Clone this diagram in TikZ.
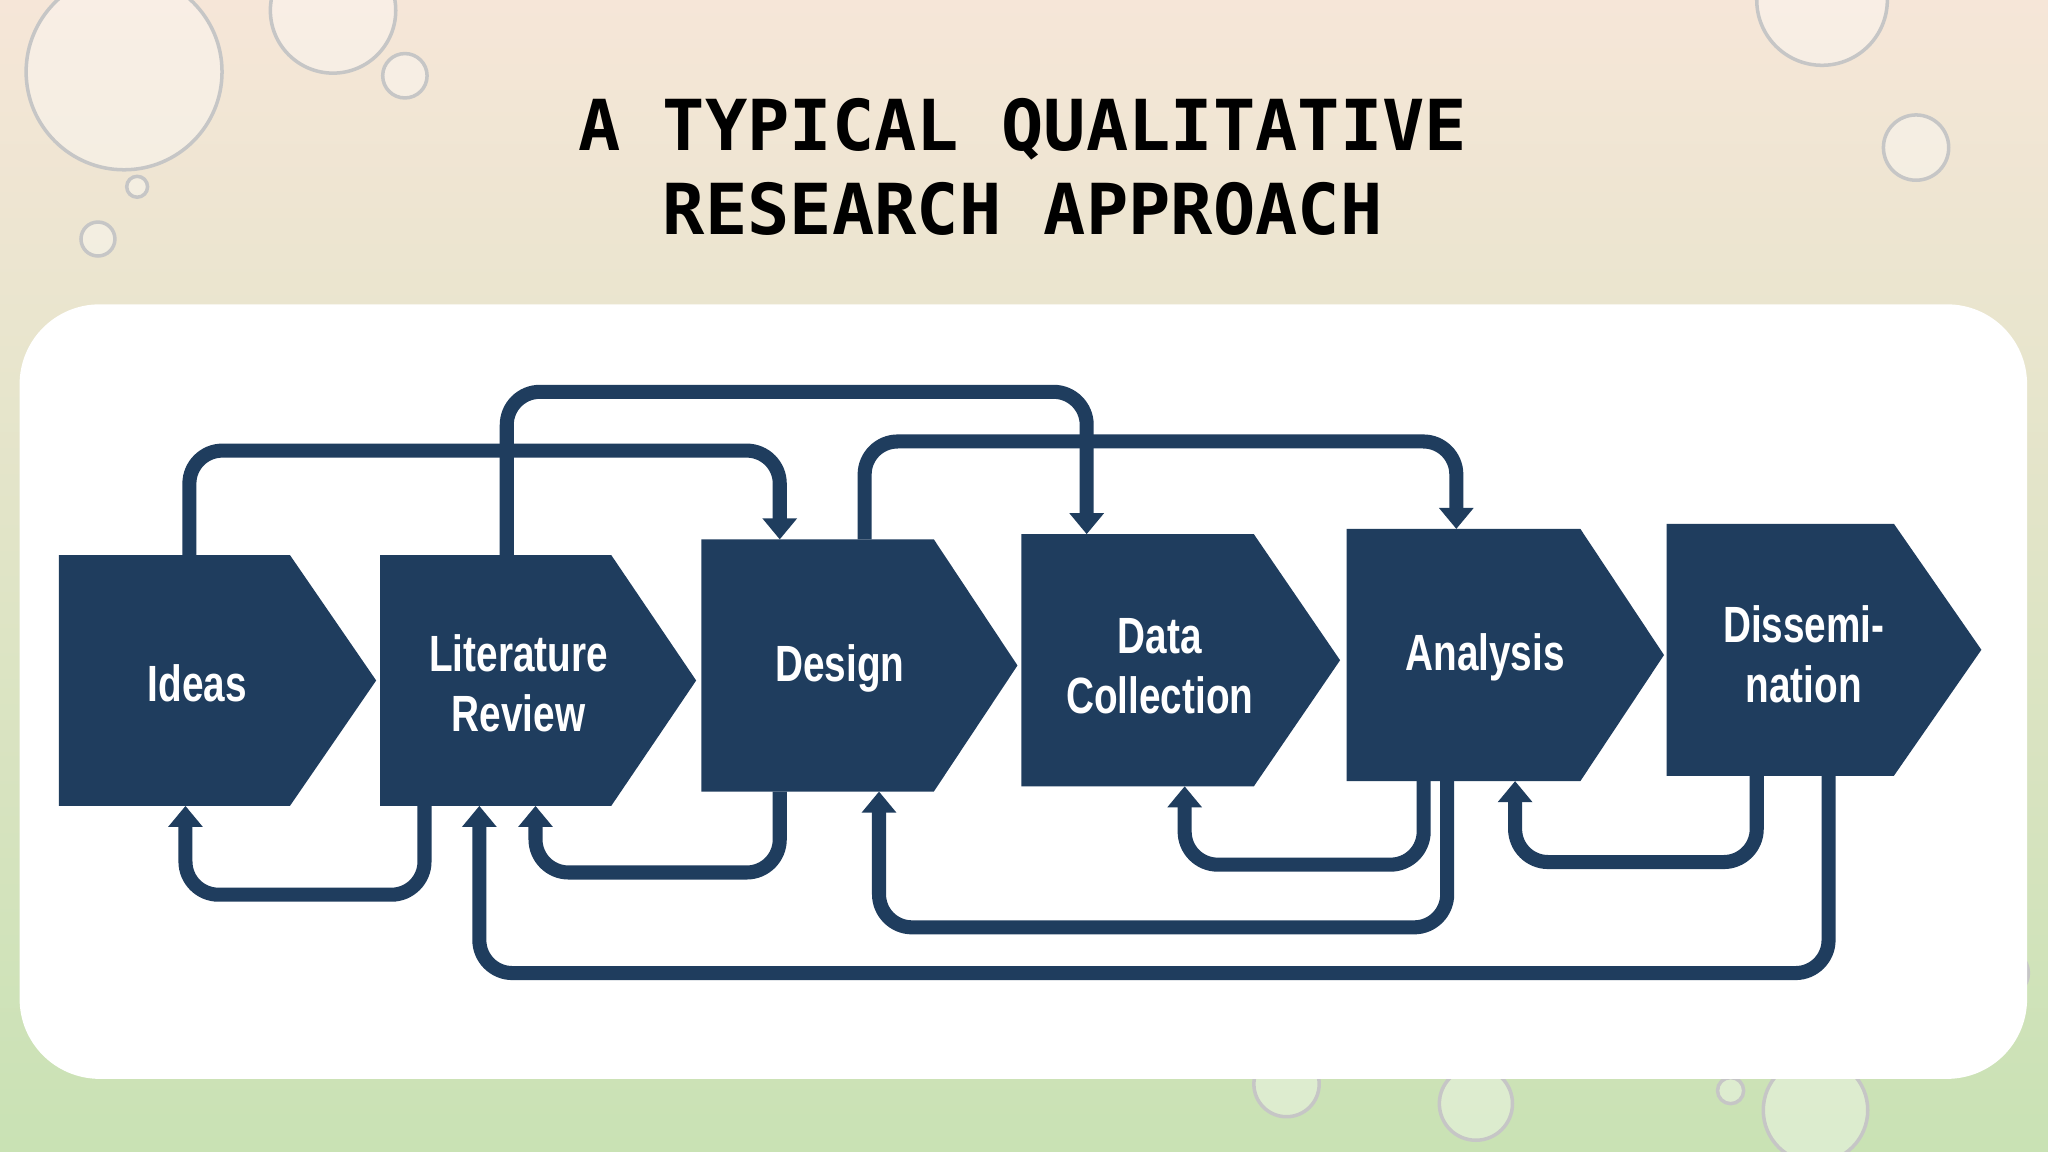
\documentclass[tikz,border=0pt]{standalone}
\usepackage{fontspec}
\setmainfont{Liberation Sans}
\newfontfamily\titlefont{DejaVu Sans Mono}
\usetikzlibrary{arrows.meta}
\definecolor{navy}{HTML}{1F3D5E}
\definecolor{topbg}{HTML}{F6E6D8}
\definecolor{botbg}{HTML}{C9E2B4}
\tikzset{
  flow/.style={draw=navy, line width=4pt, rounded corners=0.33cm, -{Triangle[width=9.5pt,length=6pt]}},
  lbl/.style={text=white, font=\bfseries\fontsize{14.5}{17}\selectfont, align=center, xscale=0.76},
  drop/.style={draw=gray!45, line width=1pt, fill=white, fill opacity=0.35},
}
\newcommand\chev[6]{% name, xl, xr, xtip, ytop, ybot
  \fill[navy] (#2,#5) -- (#3,#5) -- (#4,{(#5+#6)/2}) -- (#3,#6) -- (#2,#6) -- cycle;
}
\begin{document}
\begin{tikzpicture}[x=0.013061cm,y=-0.013061cm]
\useasboundingbox (0,0) rectangle (1568,882);
\shade[top color=topbg, bottom color=botbg] (0,0) rectangle (1568,882);
\foreach \x/\y/\r in {95/55/75, 255/8/48, 310/58/17, 105/143/8, 75/183/13, 1395/0/50, 1467/113/25, 1535/745/18, 1390/850/40, 1130/845/28, 985/830/25, 1325/835/10}
  \draw[drop] (\x,\y) circle (\r);
\fill[white] (15,233) [rounded corners=0.8cm] rectangle (1552,826);
\node[font=\titlefont\bfseries\fontsize{20}{24}\selectfont, align=center] (title) at (783,128) {A TYPICAL QUALITATIVE\\RESEARCH APPROACH};
% chevrons
\chev{ideas}{45}{222}{288}{425}{617}
\chev{lit}{291}{468}{533}{425}{617}
\chev{des}{537}{715}{779}{413}{606}
\chev{dc}{782}{960}{1026}{409}{602}
\chev{ana}{1031}{1210}{1274}{405}{598}
\chev{dis}{1276}{1450}{1517}{401}{594}
\node[lbl] (ideas) at (151,523) {Ideas};
\node[lbl] (lit) at (397,523) {Literature\\Review};
\node[lbl] (des) at (643,512) {Design};
\node[lbl] (dc) at (888,510) {Data\\Collection};
\node[lbl] (ana) at (1137,503) {Analysis};
\node[lbl] (dis) at (1381,501) {Dissemi-\\nation};
% anchor coordinates
\coordinate (ideasT) at (145,425); \coordinate (ideasB) at (142,617);
\coordinate (litT) at (388,425); \coordinate (litB1) at (325,617);
\coordinate (litB2) at (410,617); \coordinate (litB3) at (367,617);
\coordinate (desT1) at (597,413); \coordinate (desT2) at (662,413);
\coordinate (desB1) at (597,606); \coordinate (desB2) at (673,606);
\coordinate (dcT) at (832,409); \coordinate (dcB) at (907,602);
\coordinate (anaT) at (1115,405); \coordinate (anaB1) at (1090,598);
\coordinate (anaB2) at (1108,598); \coordinate (anaB3) at (1160,598);
\coordinate (disB1) at (1345,594); \coordinate (disB2) at (1400,594);
% top feedforward
\draw[flow] (ideasT) -- (145,345) -- (597,345) -- (desT1);
\draw[flow] (litT) -- (388,300) -- (832,300) -- (dcT);
\draw[flow] (desT2) -- (662,338) -- (1115,338) -- (anaT);
% bottom feedback
\draw[flow] (litB1) -- (325,685) -- (142,685) -- (ideasB);
\draw[flow] (desB1) -- (597,668) -- (410,668) -- (litB2);
\draw[flow] (anaB1) -- (1090,662) -- (907,662) -- (dcB);
\draw[flow] (anaB2) -- (1108,710) -- (673,710) -- (desB2);
\draw[flow] (disB1) -- (1345,660) -- (1160,660) -- (anaB3);
\draw[flow] (disB2) -- (1400,745) -- (367,745) -- (litB3);
\end{tikzpicture}
\end{document}
